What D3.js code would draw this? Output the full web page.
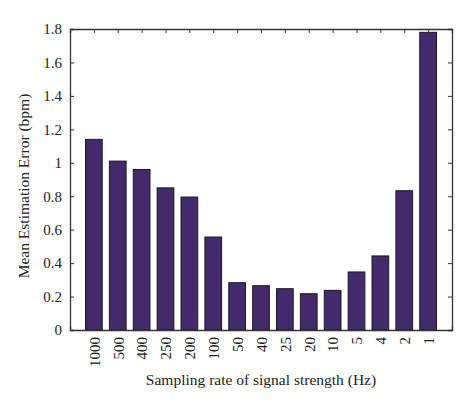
<!DOCTYPE html>
<html>
<head>
<meta charset="utf-8">
<script src="https://cdn.jsdelivr.net/npm/d3@7"></script>
<style>
  body { margin: 0; background: #fff; }
  svg text { font-family: "Liberation Serif", "DejaVu Serif", serif; fill: #222; }
</style>
</head>
<body>
<div id="chart"></div>
<script>
// sampling rates (x categories) and mean estimation errors
const rates = ["1000", "500", "400", "250", "200", "100", "50", "40", "25", "20", "10", "5", "4", "2", "1"];
const errors = [1.14, 1.01, 0.96, 0.85, 0.795, 0.556, 0.283, 0.265, 0.247, 0.217, 0.237, 0.347, 0.443, 0.833, 1.78];
const yTicks = [0, 0.2, 0.4, 0.6, 0.8, 1, 1.2, 1.4, 1.6, 1.8];

const W = 474, H = 411;
const margin = { top: 29, right: 22, bottom: 81, left: 70 },
      width = W - margin.left - margin.right,
      height = H - margin.top - margin.bottom;

const svg = d3.select("#chart")
    .append("svg")
    .attr("width", W)
    .attr("height", H);

const g = svg.append("g")
    .attr("transform", `translate(${margin.left},${margin.top})`);

// matlab-like: bars centred at 1..n, xlim [0, n+1]
const x = d3.scaleLinear().domain([0, rates.length + 1]).range([0, width]);
const y = d3.scaleLinear().domain([0, 1.8]).range([height, 0]);
const barW = x(0.7) - x(0);

// bars
g.selectAll(".bar")
    .data(errors)
    .enter()
    .append("rect")
    .attr("class", "bar")
    .attr("x", (d, i) => x(i + 1) - barW / 2)
    .attr("y", d => y(d))
    .attr("width", barW)
    .attr("height", d => y(0) - y(d))
    .attr("fill", "#432a6c")
    .attr("stroke", "#1a1a1a")
    .attr("stroke-width", 1);

const xPos = rates.map((r, i) => i + 1);

// left axis
g.append("g")
    .call(d3.axisLeft(y).tickValues(yTicks).tickSize(-4).tickPadding(8).tickFormat(d3.format("~g")))
    .call(a => a.selectAll("text").style("font-size", "15px"));

// right axis (ticks only)
g.append("g")
    .attr("transform", `translate(${width},0)`)
    .call(d3.axisRight(y).tickValues(yTicks).tickSize(-4).tickFormat(""));

// bottom axis
g.append("g")
    .attr("transform", `translate(0,${height})`)
    .call(d3.axisBottom(x).tickValues(xPos).tickSize(-4).tickFormat((d, i) => rates[i]))
    .call(a => a.selectAll("text")
        .style("font-size", "15px")
        .attr("transform", "rotate(-90)")
        .attr("x", -7)
        .attr("y", 0)
        .attr("dy", "0.35em")
        .style("text-anchor", "end"));

// top axis (ticks only)
g.append("g")
    .call(d3.axisTop(x).tickValues(xPos).tickSize(-4).tickFormat(""));

g.selectAll(".domain").attr("stroke", "#333").attr("stroke-width", 1.3);
g.selectAll(".tick line").attr("stroke", "#333");

// axis labels
svg.append("text")
    .attr("x", 261)
    .attr("y", 385)
    .style("text-anchor", "middle")
    .style("font-size", "15.5px")
    .text("Sampling rate of signal strength (Hz)");

svg.append("text")
    .attr("transform", "rotate(-90)")
    .attr("x", -186)
    .attr("y", 29)
    .style("text-anchor", "middle")
    .style("font-size", "15.5px")
    .text("Mean Estimation Error (bpm)");
</script>
</body>
</html>
